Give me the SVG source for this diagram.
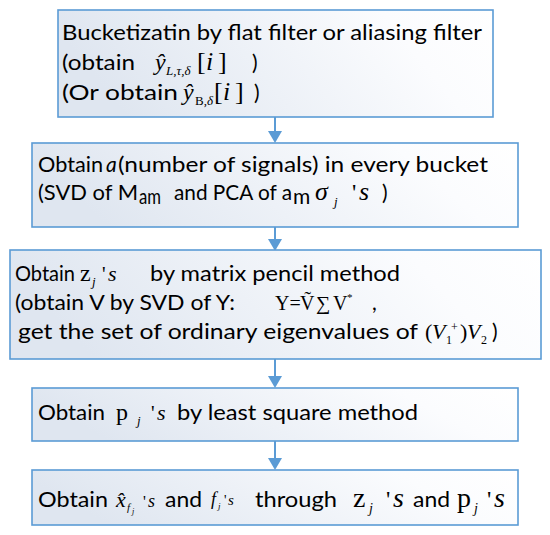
<svg xmlns="http://www.w3.org/2000/svg" width="550" height="535" viewBox="0 0 550 535">
<defs>
<linearGradient id="g" x1="0" y1="0.2" x2="1" y2="0">
<stop offset="0" stop-color="#dfe6f0"/>
<stop offset="0.75" stop-color="#fbfcfe"/>
<stop offset="1" stop-color="#ffffff"/>
</linearGradient>
<marker id="ah" viewBox="0 0 12 14" refX="0" refY="7" markerWidth="12" markerHeight="14" markerUnits="userSpaceOnUse" orient="auto">
<path d="M0,0 L12,7 L0,14 z" fill="#5b9bd5"/>
</marker>
<style>
.box{fill:url(#g);stroke:#5b9bd5;stroke-width:1.6}
.t{font-family:Lato,"Open Sans","Liberation Sans",sans-serif;font-size:21px;fill:#000}
.ti{font-family:Lato,"Open Sans","Liberation Sans",sans-serif;font-size:21px;font-style:italic;fill:#000}
.m{font-family:"Liberation Serif","Times New Roman",serif;font-style:italic;fill:#000}
.u{font-family:"Liberation Serif","Times New Roman",serif;fill:#000}
.conn{stroke:#5b9bd5;stroke-width:2;fill:none}
</style>
</defs>

<g id="connectors">
<line class="conn" x1="275" y1="117" x2="275" y2="131" marker-end="url(#ah)"/>
<line class="conn" x1="275" y1="227" x2="275" y2="239" marker-end="url(#ah)"/>
<line class="conn" x1="275" y1="359" x2="275" y2="376" marker-end="url(#ah)"/>
<line class="conn" x1="275" y1="441" x2="275" y2="458" marker-end="url(#ah)"/>
</g>

<g id="node1">
<rect class="box" x="58" y="10" width="435" height="107"/>
<text class="t" x="62" y="40" textLength="420" lengthAdjust="spacingAndGlyphs">Bucketizatin by flat filter or aliasing filter</text>
<text class="t" x="62" y="70" textLength="73" lengthAdjust="spacingAndGlyphs">(obtain</text>
<text class="m" x="155" y="70" font-size="24">ŷ</text>
<text class="m" x="166" y="75" font-size="13">L,τ,δ</text>
<text class="u" x="197" y="70" font-size="26">[</text>
<text class="m" x="206" y="70" font-size="26">i</text>
<text class="u" x="218" y="70" font-size="26">]</text>
<text class="t" x="252" y="70">)</text>
<text class="t" x="62" y="100" textLength="116" lengthAdjust="spacingAndGlyphs">(Or obtain</text>
<text class="m" x="183" y="100" font-size="24">ŷ</text>
<text class="u" x="195" y="105" font-size="13">B,<tspan font-style="italic">δ</tspan></text>
<text class="u" x="214" y="100" font-size="26">[</text>
<text class="m" x="223" y="100" font-size="26">i</text>
<text class="u" x="235" y="100" font-size="26">]</text>
<text class="t" x="254" y="100">)</text>
</g>

<g id="node2">
<rect class="box" x="32" y="143" width="486" height="84"/>
<text class="t" x="38" y="172" textLength="65" lengthAdjust="spacingAndGlyphs">Obtain</text>
<text class="ti" x="106" y="172">a</text>
<text class="t" x="118" y="172" textLength="370" lengthAdjust="spacingAndGlyphs">(number of signals) in every bucket</text>
<text class="t" x="38" y="200" textLength="100" lengthAdjust="spacingAndGlyphs">(SVD of M</text>
<text class="t" x="139" y="204" font-size="14" textLength="22" lengthAdjust="spacingAndGlyphs">am</text>
<text class="t" x="174" y="200" textLength="118" lengthAdjust="spacingAndGlyphs">and PCA of a</text>
<text class="t" x="293" y="204" font-size="14">m</text>
<text class="m" x="315" y="200" font-size="26">σ</text>
<text class="m" x="334" y="206" font-size="13">j</text>
<text class="u" x="352" y="200" font-size="24">'</text>
<text class="m" x="359" y="200" font-size="26">s</text>
<text class="t" x="382" y="200">)</text>
</g>

<g id="node3">
<rect class="box" x="10" y="250" width="531" height="109"/>
<text class="t" x="15" y="281" textLength="60" lengthAdjust="spacingAndGlyphs">Obtain</text>
<text class="u" x="80" y="281" font-size="24">z</text>
<text class="m" x="92" y="286" font-size="13">j</text>
<text class="u" x="102" y="281" font-size="20">'</text>
<text class="m" x="108" y="281" font-size="22">s</text>
<text class="t" x="150" y="281" textLength="250" lengthAdjust="spacingAndGlyphs">by matrix pencil method</text>
<text class="t" x="15" y="310" textLength="220" lengthAdjust="spacingAndGlyphs">(obtain V by SVD of Y:</text>
<text class="u" x="275" y="310" font-size="20">Y=</text>
<text class="u" x="300" y="310" font-size="20">Ṽ</text>
<text class="u" x="316" y="310" font-size="20">∑</text>
<text class="u" x="333" y="310" font-size="20">V</text>
<text class="u" x="347" y="301" font-size="11">*</text>
<text class="t" x="372" y="310">,</text>
<text class="t" x="18" y="339" textLength="400" lengthAdjust="spacingAndGlyphs">get the set of ordinary eigenvalues of</text>
<text class="u" x="425" y="339" font-size="22">(</text>
<text class="m" x="432" y="339" font-size="22">V</text>
<text class="u" x="446" y="344" font-size="12">1</text>
<text class="u" x="451" y="331" font-size="12">+</text>
<text class="u" x="460" y="339" font-size="22">)</text>
<text class="m" x="467" y="339" font-size="22">V</text>
<text class="u" x="481" y="344" font-size="12">2</text>
<text class="t" x="492" y="339">)</text>
</g>

<g id="node4">
<rect class="box" x="32" y="388" width="486" height="53"/>
<text class="t" x="38" y="420" textLength="67" lengthAdjust="spacingAndGlyphs">Obtain</text>
<text class="u" x="116" y="420" font-size="24">p</text>
<text class="m" x="137" y="425" font-size="13">j</text>
<text class="u" x="151" y="420" font-size="20">'</text>
<text class="m" x="157" y="420" font-size="22">s</text>
<text class="t" x="177" y="420" textLength="241" lengthAdjust="spacingAndGlyphs">by least square method</text>
</g>

<g id="node5">
<rect class="box" x="32" y="470" width="486" height="55"/>
<text class="t" x="38" y="507" textLength="70" lengthAdjust="spacingAndGlyphs">Obtain</text>
<text class="m" x="116" y="507" font-size="22">x̂</text>
<text class="m" x="127" y="511" font-size="11">f</text>
<text class="m" x="132" y="514" font-size="8">j</text>
<text class="u" x="143" y="507" font-size="16">'</text>
<text class="m" x="148" y="507" font-size="18">s</text>
<text class="t" x="165" y="507" textLength="37" lengthAdjust="spacingAndGlyphs">and</text>
<text class="m" x="211" y="505" font-size="18">f</text>
<text class="m" x="218" y="509" font-size="9">j</text>
<text class="u" x="224" y="505" font-size="14">'</text>
<text class="m" x="228" y="505" font-size="15">s</text>
<text class="t" x="255" y="507" textLength="82" lengthAdjust="spacingAndGlyphs">through</text>
<text class="u" x="353" y="507" font-size="28">z</text>
<text class="m" x="369" y="513" font-size="14">j</text>
<text class="u" x="386" y="507" font-size="24">'</text>
<text class="m" x="393" y="507" font-size="28">s</text>
<text class="t" x="413" y="507" textLength="37" lengthAdjust="spacingAndGlyphs">and</text>
<text class="u" x="457" y="507" font-size="28">p</text>
<text class="m" x="474" y="513" font-size="14">j</text>
<text class="u" x="487" y="507" font-size="24">'</text>
<text class="m" x="494" y="507" font-size="28">s</text>
</g>
</svg>
